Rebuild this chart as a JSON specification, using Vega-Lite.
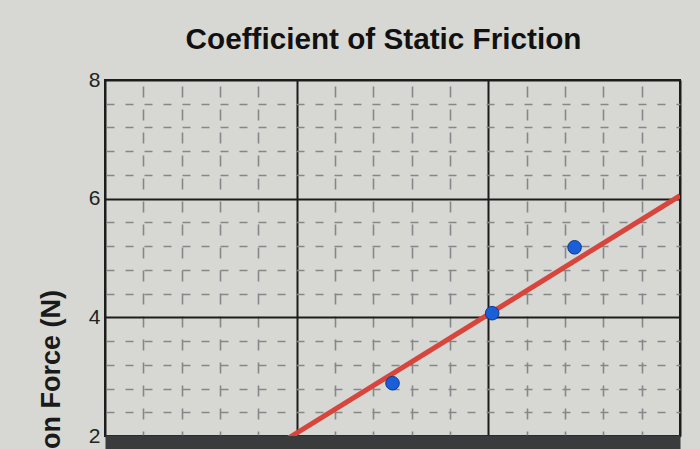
{
  "$schema": "https://vega.github.io/schema/vega-lite/v6.json",
  "width": 575,
  "height": 356,
  "autosize": "none",
  "padding": {"left": 105, "top": 80, "right": 20, "bottom": 13},
  "background": "#d7d8d3",
  "title": {
    "text": "Coefficient of Static Friction",
    "fontSize": 29.7,
    "font": "Liberation Sans",
    "fontWeight": "bold",
    "color": "#111111",
    "offset": 13,
    "dx": -9
  },
  "datasets": {
    "points": [
      {"normal": 3.0, "friction": 2.89},
      {"normal": 4.04, "friction": 4.07},
      {"normal": 4.9, "friction": 5.18}
    ],
    "fit": [
      {"normal": 0, "friction": 0.05},
      {"normal": 6, "friction": 6.05}
    ]
  },
  "layer": [
    {
      "data": {"name": "fit"},
      "mark": {"type": "line", "color": "#d8453c", "strokeWidth": 5, "clip": true},
      "encoding": {
        "x": {
          "field": "normal", "type": "quantitative",
          "scale": {"domain": [0, 6], "nice": false},
          "axis": {
            "orient": "top", "values": [0.4, 0.8, 1.2, 1.6, 2.4, 2.8, 3.2, 3.6, 4.4, 4.8, 5.2, 5.6],
            "grid": true, "gridColor": "#85888a", "gridWidth": 1.6, "gridDash": [11, 12], "gridDashOffset": 6,
            "labels": false, "ticks": false, "domain": false, "title": null
          }
        },
        "y": {
          "field": "friction", "type": "quantitative",
          "scale": {"domain": [2, 8], "nice": false},
          "axis": {
            "orient": "right", "values": [2.4, 2.8, 3.2, 3.6, 4.4, 4.8, 5.2, 5.6, 6.4, 6.8, 7.2, 7.6],
            "grid": true, "gridColor": "#85888a", "gridWidth": 1.6, "gridDash": [8, 11], "gridDashOffset": 4,
            "labels": false, "ticks": false, "domain": false, "title": null
          }
        }
      }
    },
    {
      "data": {"name": "points"},
      "mark": {"type": "circle", "size": 185, "color": "#1a5ed8", "opacity": 1, "stroke": "#0d3a8a", "strokeWidth": 1},
      "encoding": {
        "x": {
          "field": "normal", "type": "quantitative",
          "scale": {"domain": [0, 6], "nice": false},
          "axis": {
            "orient": "bottom", "values": [0, 2, 4, 6],
            "grid": true, "gridColor": "#1c1c1c", "gridWidth": 2,
            "labels": false, "ticks": false, "title": null,
            "domain": true, "domainColor": "#3a3b3d", "domainWidth": 16, "offset": 7
          }
        },
        "y": {
          "field": "friction", "type": "quantitative",
          "scale": {"domain": [2, 8], "nice": false},
          "axis": {
            "orient": "left", "values": [2, 4, 6, 8],
            "grid": true, "gridColor": "#1c1c1c", "gridWidth": 2,
            "domain": false, "ticks": false,
            "labelFont": "Liberation Sans", "labelFontSize": 21, "labelColor": "#222222", "labelPadding": 5,
            "title": "Friction Force (N)",
            "titleFont": "Liberation Sans", "titleFontSize": 27, "titleFontWeight": "bold", "titleColor": "#1a1a1a",
            "titleX": -54, "titleY": 322, "titleAngle": -90, "titleBaseline": "middle", "titleAlign": "center"
          }
        }
      }
    }
  ],
  "resolve": {"axis": {"x": "independent", "y": "independent"}},
  "config": {
    "view": {"stroke": "#1c1c1c", "strokeWidth": 2}
  }
}
